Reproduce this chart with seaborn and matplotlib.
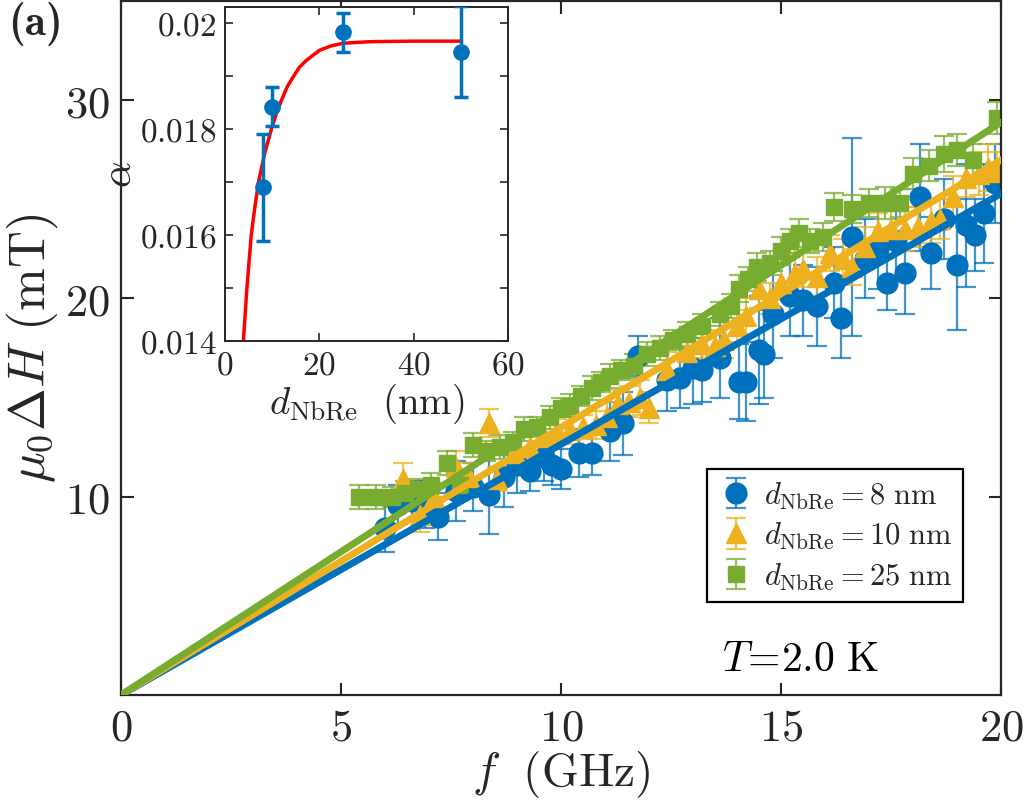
import os
import numpy as np
import pandas as pd
import matplotlib
matplotlib.use("Agg")
import matplotlib.pyplot as plt
import seaborn as sns
from matplotlib.ticker import FixedLocator, FuncFormatter
from matplotlib.font_manager import FontProperties

# ---- main panel data: linewidth vs frequency ----
f_8nm = [6.0, 6.3, 6.6, 6.9, 7.2, 7.6, 8.0, 8.35, 8.7, 9.0, 9.3, 9.6, 9.8, 10.0, 10.4, 10.7,
         11.1, 11.4, 11.75, 12.4, 12.7, 13.0, 13.2, 13.6, 14.05, 14.2, 14.5, 14.6, 14.8, 15.2,
         15.5, 15.8, 16.2, 16.35, 16.6, 16.9, 17.2, 17.4, 17.6, 17.8, 18.15, 18.4, 18.7, 19.0,
         19.2, 19.4, 19.6, 19.85]
dh_8nm = [8.4, 9.6, 9.8, 9.6, 9.0, 10.3, 10.5, 10.1, 11.0, 11.6, 11.3, 12.0, 11.6, 11.4, 12.2, 12.2,
          13.3, 13.7, 17.1, 15.9, 16.0, 16.5, 16.4, 17.0, 15.8, 15.8, 17.4, 17.2, 19.2, 20.1,
          19.9, 19.6, 20.8, 19.0, 23.1, 22.0, 22.5, 20.8, 22.9, 21.3, 25.1, 22.3, 24.0, 21.7,
          23.7, 23.2, 24.3, 25.8]
err_8nm = [1.2, 1.0, 1.0, 1.2, 1.2, 1.5, 1.2, 2.0, 1.5, 1.4, 1.0, 1.2, 1.0, 1.0, 1.2, 1.1,
           1.5, 1.6, 1.0, 1.6, 1.5, 1.8, 1.6, 2.0, 1.9, 2.0, 2.7, 2.2, 2.2, 2.0,
           1.8, 2.0, 1.8, 2.0, 5.0, 2.0, 2.0, 1.4, 2.0, 2.1, 2.7, 1.8, 2.0, 3.3,
           3.1, 1.8, 2.5, 2.0]

f_10nm = [6.4, 6.8, 7.1, 7.6, 7.9, 8.35, 8.55, 8.95, 9.3, 9.6, 9.9, 10.2, 10.5, 10.8, 11.05,
          11.3, 11.55, 11.8, 12.0, 12.4, 12.85, 13.2, 13.5, 13.7, 14.0, 14.2, 14.5, 14.75, 15.0,
          15.3, 15.5, 15.8, 16.1, 16.4, 16.6, 16.9, 17.2, 17.5, 17.8, 18.1, 18.4, 18.6, 18.9,
          19.2, 19.5, 19.7, 19.9]
dh_10nm = [10.9, 9.1, 10.0, 11.5, 11.0, 13.7, 10.9, 12.2, 12.5, 13.0, 13.3, 13.35, 13.5, 13.6, 14.0,
           14.7, 14.8, 15.0, 14.5, 16.4, 17.3, 17.7, 17.6, 17.9, 18.6, 19.1, 20.5, 20.0, 20.8,
           21.3, 21.5, 21.1, 22.3, 22.0, 21.6, 22.6, 23.4, 23.5, 23.5, 23.6, 23.9, 24.0, 25.1,
           26.1, 26.3, 26.6, 26.4]
err_10nm = [0.8, 0.9, 0.7, 0.8, 0.7, 0.7, 0.6, 0.7, 0.6, 0.7, 0.6, 0.7, 0.6, 0.7, 0.8,
            0.7, 0.8, 0.9, 0.8, 0.9, 0.8, 0.7, 0.8, 0.9, 0.8, 0.9, 1.0, 0.8, 0.9,
            1.0, 0.9, 1.0, 0.9, 1.0, 0.9, 1.0, 0.9, 1.0, 1.1, 1.0, 1.1, 1.0, 1.1,
            1.0, 1.1, 1.2, 1.0]

f_25nm = [5.4, 5.8, 6.15, 6.45, 6.75, 7.05, 7.4, 7.7, 8.0, 8.3, 8.6, 8.9, 9.15, 9.45, 9.75,
          10.0, 10.2, 10.45, 10.7, 10.9, 11.1, 11.35, 11.65, 11.95, 12.25, 12.55, 12.85, 13.2,
          13.6, 13.85, 14.05, 14.25, 14.45, 14.75, 15.0, 15.2, 15.4, 15.65, 15.95, 16.2, 16.6,
          17.0, 17.35, 17.7, 18.0, 18.35, 18.7, 19.0, 19.35, 19.9]
dh_25nm = [10.0, 10.0, 10.0, 10.2, 10.4, 10.6, 11.7, 10.6, 12.6, 12.3, 12.5, 12.75, 13.4, 13.5, 14.0,
           14.5, 14.6, 15.1, 15.5, 15.8, 16.1, 16.4, 16.6, 17.2, 17.5, 17.9, 18.2, 18.6,
           19.2, 19.6, 20.5, 21.0, 21.6, 21.8, 22.4, 22.9, 23.3, 22.9, 23.1, 24.6, 24.5,
           24.8, 24.8, 24.8, 26.3, 26.7, 27.3, 27.5, 27.0, 29.1]
err_25nm = [0.6, 0.6, 0.5, 0.6, 0.5, 0.6, 0.6, 0.5, 0.6, 0.5, 0.6, 0.5, 0.6, 0.5, 0.6,
            0.5, 0.6, 0.5, 0.6, 0.5, 0.6, 0.5, 0.6, 0.6, 0.6, 0.5, 0.6, 0.6,
            0.6, 0.6, 0.7, 0.6, 0.7, 0.6, 0.7, 0.6, 0.7, 0.6, 0.7, 0.7, 0.7,
            0.7, 0.8, 0.7, 0.8, 0.8, 0.9, 0.8, 0.8, 0.8]

# linear fits through the origin (end points)
fit_f = [0, 20]
fit_8nm = [0, 25.3]
fit_10nm = [0, 27.0]
fit_25nm = [0, 28.9]

# ---- inset data: damping vs thickness ----
d_inset = [8, 10, 25, 50]
alpha_inset = [0.0169, 0.01842, 0.01983, 0.01946]
alpha_err = [0.00101, 0.00037, 0.00037, 0.00086]
curve_d = [3.9, 4.66, 5.58, 6.3, 7.13, 8.5, 9.88, 11.0, 12.0, 13.2, 14.5, 15.8, 17.3, 20.1,
           22.5, 25.0, 30.7, 40.0, 50.0]
curve_alpha = [0.01400, 0.01501, 0.01601, 0.01650, 0.01701, 0.01757, 0.01801, 0.01832, 0.01855,
               0.01880, 0.01899, 0.01917, 0.01930, 0.01949, 0.01957, 0.01962, 0.01965, 0.01966,
               0.01966]

labels = [r"$d_{\mathrm{NbRe}} = 8\ \mathrm{nm}$",
          r"$d_{\mathrm{NbRe}} = 10\ \mathrm{nm}$",
          r"$d_{\mathrm{NbRe}} = 25\ \mathrm{nm}$"]
colors = ["#0072BD", "#EDB120", "#77AC30"]

sns.set_theme(style="ticks")
plt.rcParams["font.family"] = ["DejaVu Serif"]
plt.rcParams["mathtext.fontset"] = "cm"
plt.rcParams["axes.unicode_minus"] = False
frame = "#262626"
bold_cm = FontProperties(fname=os.path.join(matplotlib.get_data_path(), "fonts", "ttf", "cmb10.ttf"))

fig = plt.figure(figsize=(10.25, 8.06), dpi=100)
ax = fig.add_axes([0.118, 0.1377, 0.859, 0.861])

series = [(f_8nm, dh_8nm, err_8nm, "o", 15),
          (f_10nm, dh_10nm, err_10nm, "^", 14.5),
          (f_25nm, dh_25nm, err_25nm, "s", 12)]
handles = []
for (fx, dy, ey, mk, ms), col, lab in zip(series, colors, labels):
    h = ax.errorbar(fx, dy, yerr=ey, fmt=mk, ms=ms, color=col, mec=col,
                    ecolor=col, elinewidth=1.6, capsize=7, capthick=1.6,
                    label=lab, zorder=2)
    for art in h[1] + h[2]:
        art.set_alpha(0.75)
    handles.append(h)

fits = pd.DataFrame({"f": fit_f * 3,
                     "dH": fit_8nm + fit_10nm + fit_25nm,
                     "set": ["8"] * 2 + ["10"] * 2 + ["25"] * 2})
sns.lineplot(data=fits, x="f", y="dH", hue="set", palette=colors, lw=5,
             legend=False, ax=ax, zorder=3)

ax.set_xlim(0, 20)
ax.set_ylim(0, 35)
ax.xaxis.set_major_locator(FixedLocator([0, 5, 10, 15, 20]))
ax.yaxis.set_major_locator(FixedLocator([10, 20, 30]))
fmt = FuncFormatter(lambda v, p: r"$%g$" % v)
ax.xaxis.set_major_formatter(fmt)
ax.yaxis.set_major_formatter(fmt)
ax.tick_params(direction="in", top=True, right=True, length=9, width=1.5,
               labelsize=32, color=frame, pad=8)
for s in ax.spines.values():
    s.set_linewidth(1.6)
    s.set_color(frame)
ax.set_xlabel(r"$f\ \ \mathrm{(GHz)}$", fontsize=34, labelpad=0)
ax.set_ylabel(r"$\mu_0\Delta H\ \mathrm{(mT)}$", fontsize=37, labelpad=4)

leg = ax.legend(handles=handles, labels=labels, loc="upper left",
                bbox_to_anchor=(0.666, 0.3256), borderaxespad=0, fontsize=22,
                frameon=True, fancybox=False, framealpha=1, edgecolor="black",
                handletextpad=0.3, handlelength=1.2, borderpad=0.35, labelspacing=0.3)
leg.get_frame().set_linewidth(1.6)

ax.text(13.65, 1.2, r"$T\!=\!2.0\ \mathrm{K}$", fontsize=30, color="black")
fig.text(0.008, 0.997, "(a)", fontproperties=bold_cm, fontsize=31, va="top", ha="left")

# ---- inset ----
ins = fig.add_axes([0.2195, 0.577, 0.276, 0.414])
sns.lineplot(x=curve_d, y=curve_alpha, color="red", lw=2.5, ax=ins, zorder=2)
ins.errorbar(d_inset, alpha_inset, yerr=alpha_err, fmt="o", ms=11, color=colors[0],
             elinewidth=2.5, capsize=5, capthick=2.5, zorder=3)
ins.set_xlim(0, 60)
ins.set_ylim(0.014, 0.0203)
ins.xaxis.set_major_locator(FixedLocator([0, 20, 40, 60]))
ins.yaxis.set_major_locator(FixedLocator([0.014, 0.015, 0.016, 0.017, 0.018, 0.019, 0.020]))
ins.xaxis.set_major_formatter(fmt)
ins.yaxis.set_major_formatter(FuncFormatter(
    lambda v, p: (r"$%g$" % round(v, 3)) if round(v * 1000) % 2 == 0 else ""))
ins.tick_params(direction="in", top=True, right=True, length=6, width=1.2,
                labelsize=24, color=frame, pad=3)
ins.tick_params(axis="y", pad=6)
ins.tick_params(axis="x", pad=6)
for s in ins.spines.values():
    s.set_linewidth(1.4)
    s.set_color(frame)
ins.set_xlabel(r"$d_{\mathrm{NbRe}}\ \ \mathrm{(nm)}$", fontsize=28, labelpad=0)
ins.set_ylabel(r"$\alpha$", fontsize=30, labelpad=0)

fig.savefig("out.png", dpi=100)
